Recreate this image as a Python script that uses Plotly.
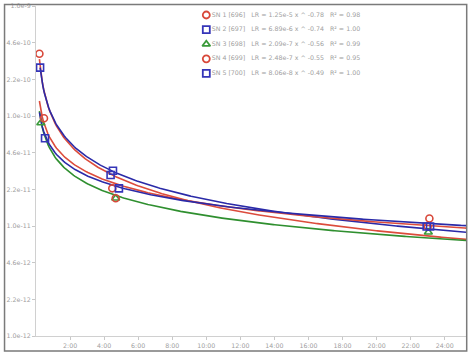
import numpy as np
import plotly.graph_objects as go

# ---------------- data ----------------
series_names = ["SN 1", "SN 2", "SN 3", "SN 4", "SN 5"]
series_ids = ["[696]", "[697]", "[698]", "[699]", "[700]"]
series_colors = ["#d8483a", "#3535b8", "#3a9a3a", "#d8483a", "#3535b8"]
line_colors = ["#dc4c3c", "#2a2aa8", "#2f8f2f", "#dc4c3c", "#2a2aa8"]
series_symbols = ["circle-open", "square-open", "triangle-up-open", "circle-open", "square-open"]

# sample times (hours) and leak rates
sn1_t = [0.20, 4.68, 23.10]
sn1_v = [3.68e-10, 1.79e-11, 1.17e-11]
sn2_t = [0.24, 4.38, 4.52, 22.94]
sn2_v = [2.75e-10, 2.91e-11, 3.18e-11, 9.9e-12]
sn3_t = [0.28, 4.68, 23.04]
sn3_v = [8.63e-11, 1.79e-11, 8.77e-12]
sn4_t = [0.47, 4.48, 23.00]
sn4_v = [9.53e-11, 2.20e-11, 9.9e-12]
sn5_t = [0.53, 4.87, 23.14]
sn5_v = [6.27e-11, 2.20e-11, 9.9e-12]

# power-law fits  LR = a * t^b  (t in hours), as drawn
fit_a = [9.37e-11, 9.57e-11, 4.5e-11, 5.65e-11, 4.9e-11]
fit_b = [-0.78, -0.74, -0.56, -0.55, -0.49]
fit_start = [0.20, 0.24, 0.20, 0.20, 0.20]

# legend texts
legend_coef = ["1.25e-5", "6.89e-6", "2.09e-7", "2.48e-7", "8.06e-8"]
legend_exp = ["-0.78", "-0.74", "-0.56", "-0.55", "-0.49"]
legend_r2 = ["0.98", "1.00", "0.99", "0.95", "1.00"]

# axis ticks
x_tickvals = [2, 4, 6, 8, 10, 12, 14, 16, 18, 20, 22, 24]
x_ticktext = ["2:00", "4:00", "6:00", "8:00", "10:00", "12:00", "14:00",
              "16:00", "18:00", "20:00", "22:00", "24:00"]
y_tickvals = [1e-12, 2.15e-12, 4.64e-12, 1e-11, 2.15e-11, 4.64e-11,
              1e-10, 2.15e-10, 4.64e-10, 1e-9]
y_ticktext = ["1.0e-12", "2.2e-12", "4.6e-12", "1.0e-11", "2.2e-11", "4.6e-11",
              "1.0e-10", "2.2e-10", "4.6e-10", "1.0e-9"]
x_max = 25.25

# ---------------- figure ----------------
times = [sn1_t, sn2_t, sn3_t, sn4_t, sn5_t]
vals = [sn1_v, sn2_v, sn3_v, sn4_v, sn5_v]

fig = go.Figure()
for i in range(5):
    tt = np.linspace(fit_start[i], x_max, 300)
    fig.add_trace(go.Scatter(
        x=tt, y=fit_a[i] * tt ** fit_b[i], mode="lines",
        line=dict(color=line_colors[i], width=1.6), showlegend=False,
        hoverinfo="skip"))

for i in [2, 0, 3, 1, 4]:
    fig.add_trace(go.Scatter(
        x=times[i], y=vals[i], mode="markers", showlegend=False,
        marker=dict(symbol=series_symbols[i], size=7, color=series_colors[i],
                    line=dict(width=1.6, color=series_colors[i]))))

# legend (drawn as a small table on an overlay axis)
labels = []
for i in range(5):
    labels.append(f"{series_names[i]}\u00a0{series_ids[i]}\u00a0\u00a0\u00a0LR\u00a0=\u00a0{legend_coef[i]}\u00a0x\u00a0^\u00a0{legend_exp[i]}\u00a0\u00a0\u00a0R\u00b2\u00a0=\u00a0{legend_r2[i]}")
fig.add_trace(go.Scatter(
    x=[0] * 5, y=list(range(5)), xaxis="x2", yaxis="y2",
    mode="markers+text", text=labels, textposition="middle right",
    textfont=dict(family="DejaVu Sans", size=6.3, color="#a0a0a0"),
    marker=dict(symbol=series_symbols, size=7, color=series_colors,
                line=dict(width=1.8, color=series_colors)),
    showlegend=False, hoverinfo="skip", cliponaxis=False))

W, H = 474, 357
L, R, T, B = 35.5, 8, 6, 21
pw, ph = W - L - R, H - T - B

axis_common = dict(showgrid=False, zeroline=False, showline=True,
                   linecolor="#d0d0d0", linewidth=1, ticks="outside",
                   ticklen=3, tickcolor="#c8c8c8", automargin=False,
                   tickfont=dict(family="DejaVu Sans", size=6.3, color="#a0a0a0"))

fig.update_layout(
    width=W, height=H, margin=dict(l=L, r=R, t=T, b=B, pad=0, autoexpand=False),
    paper_bgcolor="white", plot_bgcolor="white", showlegend=False,
    xaxis=dict(range=[0, x_max], tickvals=x_tickvals, ticktext=x_ticktext,
               **axis_common),
    yaxis=dict(type="log", range=[-12, -9], tickvals=y_tickvals,
               ticktext=y_ticktext, **axis_common),
    xaxis2=dict(overlaying="x", range=[(L - 206), (W - R - 206)],
                visible=False, automargin=False),
    yaxis2=dict(overlaying="y", range=[(H - B - 15) / 14.6, (T - 15) / 14.6],
                visible=False, automargin=False),
    shapes=[dict(type="rect", xref="paper", yref="paper",
                 x0=(4 - L) / pw, x1=(466.7 - L) / pw,
                 y0=(H - B - 351) / ph, y1=(H - B - 4.5) / ph,
                 line=dict(color="#7a7a7a", width=1.5))],
)

fig.write_html("out.html", config={"displayModeBar": False},
               post_script="document.body.style.margin='0';document.body.style.overflow='hidden';")
